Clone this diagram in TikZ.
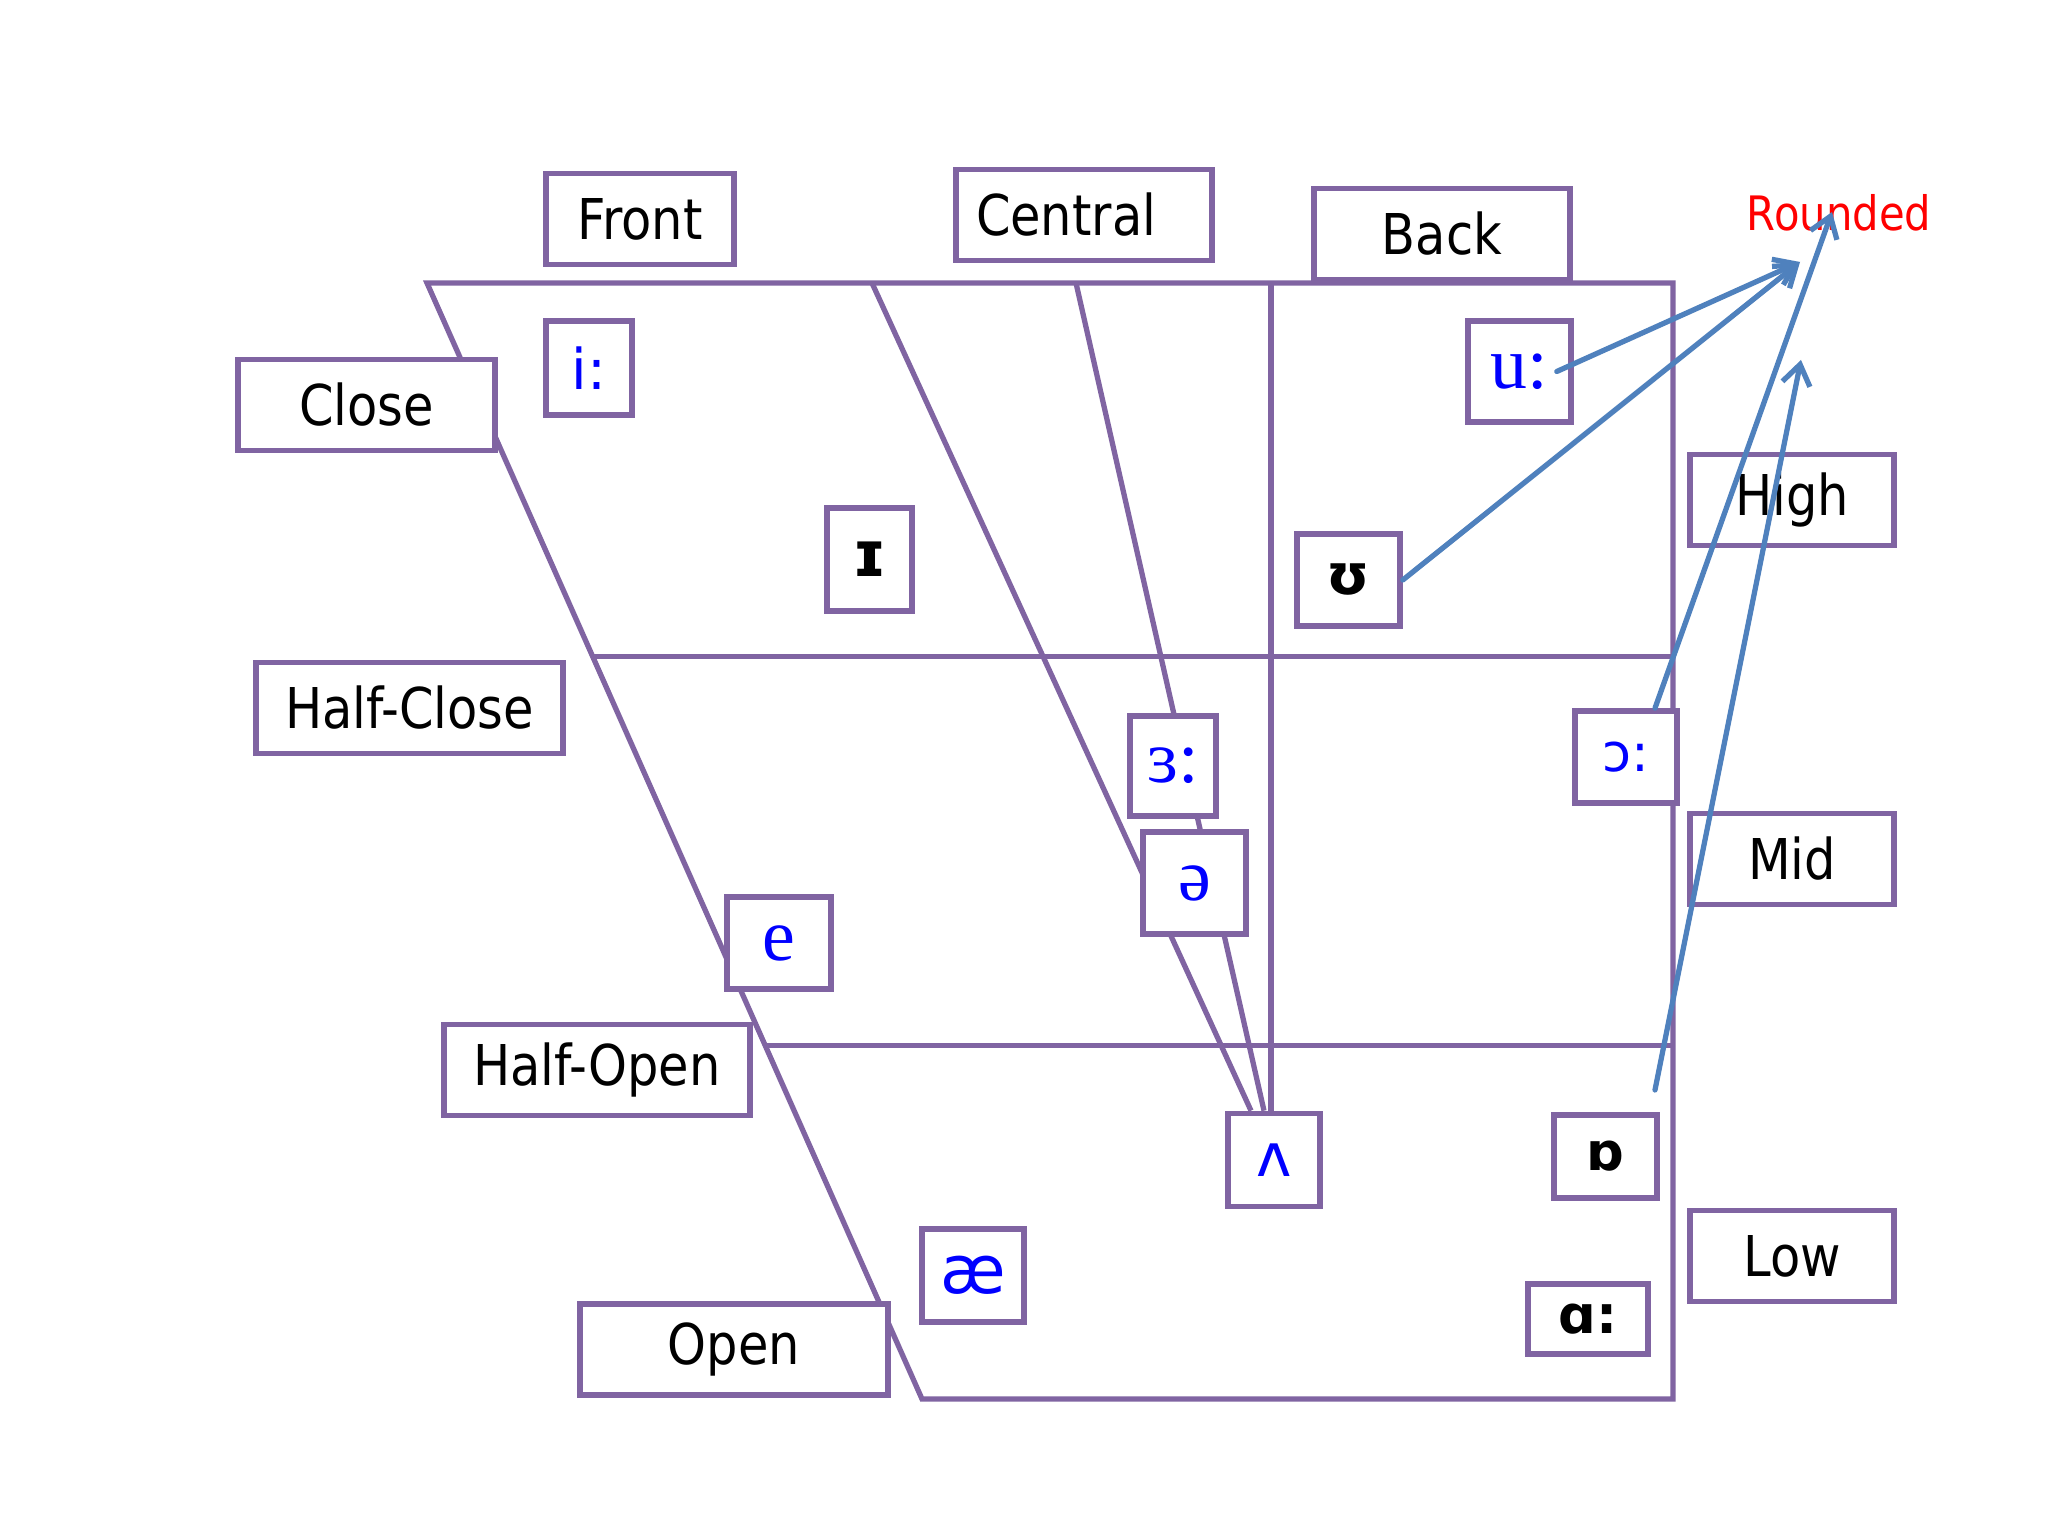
\documentclass[tikz,border=0pt]{standalone}
\usepackage{fontspec}
\usepackage{tikz}
\usepackage{color}
\usetikzlibrary{arrows.meta,calc,backgrounds}

\newfontfamily\lblfont[FakeStretch=0.88]{DejaVu Sans}
\newfontfamily\ipasans{DejaVu Sans}
\newfontfamily\ipaserif{Liberation Serif}
\definecolor{chartpurple}{HTML}{8064A2}
\definecolor{arrowblue}{HTML}{4F81BD}

\tikzset{
  lbl/.style={draw=chartpurple, line width=1.6pt, fill=white, inner sep=0pt,
    font=\lblfont\fontsize{16}{19}\selectfont, minimum height=0.91cm},
  vow/.style={draw=chartpurple, line width=1.6pt, fill=white, inner sep=0pt},
  chart/.style={draw=chartpurple, line width=1.5pt},
  rarrow/.style={draw=arrowblue, line width=1.5pt, line cap=round,
    -{Straight Barb[length=2mm,width=2.8mm]}}
}

\begin{document}
\begin{tikzpicture}

\useasboundingbox (0,0) rectangle (20.48,15.36);

\coordinate (tl) at (4.27,12.53);
\coordinate (tr) at (16.73,12.53);
\coordinate (br) at (16.73,1.37);
\coordinate (bl) at (9.22,1.37);

% labels
\node[lbl, minimum width=1.88cm] (front) at (6.40,13.17) {Front};
\node[lbl, minimum width=2.56cm, text width=2.16cm, align=left] (central) at (10.84,13.21) {Central};
\node[lbl, minimum width=2.56cm] (back) at (14.42,13.02) {Back};
\node[lbl, minimum width=2.57cm] (close) at (3.665,11.31) {Close};
\node[lbl, minimum width=3.07cm] (halfclose) at (4.095,8.28) {Half-Close};
\node[lbl, minimum width=3.06cm] (halfopen) at (5.97,4.66) {Half-Open};
\node[lbl, minimum width=3.08cm] (open) at (7.34,1.865) {Open};
\node[lbl, minimum width=2.04cm] (high) at (17.92,10.36) {High};
\node[lbl, minimum width=2.04cm] (mid) at (17.92,6.77) {Mid};
\node[lbl, minimum width=2.04cm] (low) at (17.92,2.80) {Low};
\node[text=red, font=\lblfont\fontsize{13.5}{16}\selectfont] (rounded) at (18.39,13.23) {Rounded};

% vowels
\node[vow, minimum width=0.86cm, minimum height=0.94cm, text=blue, font=\ipasans\fontsize{16}{19}\selectfont] (ii) at (5.89,11.68) {i:};
\node[vow, minimum width=0.85cm, minimum height=1.03cm, font=\ipasans\bfseries\fontsize{18}{21}\selectfont] (ih) at (8.695,9.765) {ɪ};
\node[vow, minimum width=1.03cm, minimum height=1.01cm, text=blue, font=\ipaserif\fontsize{21}{25}\selectfont] (uu) at (15.195,11.645) {u:};
\node[vow, minimum width=1.03cm, minimum height=0.92cm, font=\ipasans\bfseries\fontsize{16}{19}\selectfont] (uh) at (13.485,9.56) {ʊ};
\node[vow, minimum width=0.86cm, minimum height=1.00cm, text=blue, font=\ipaserif\fontsize{21}{25}\selectfont] (er) at (11.73,7.70) {ɜ:};
\node[vow, minimum width=1.03cm, minimum height=1.02cm, text=blue, font=\ipaserif\fontsize{21}{25}\selectfont] (schwa) at (11.945,6.53) {ə};
\node[vow, minimum width=1.04cm, minimum height=0.92cm, text=blue, font=\ipaserif\fontsize{21}{25}\selectfont] (ee) at (7.79,5.93) {e};
\node[vow, minimum width=1.02cm, minimum height=0.92cm, text=blue, font=\ipasans\fontsize{15}{18}\selectfont] (oo) at (16.26,7.79) {ɔ:};
\node[vow, minimum width=0.92cm, minimum height=0.93cm, text=blue, font=\ipasans\fontsize{17}{20}\selectfont] (lam) at (12.74,3.76) {ʌ};
\node[vow, minimum width=1.03cm, minimum height=0.83cm, font=\ipasans\bfseries\fontsize{15}{18}\selectfont] (oh) at (16.055,3.795) {ɒ};
\node[vow, minimum width=1.02cm, minimum height=0.93cm, text=blue, font=\ipasans\fontsize{19}{22}\selectfont] (ae) at (9.73,2.605) {æ};
\node[vow, minimum width=1.20cm, minimum height=0.70cm, font=\ipasans\bfseries\fontsize{15}{18}\selectfont] (aa) at (15.88,2.17) {ɑ:};

\begin{scope}[on background layer]
\fill[white] (0,0) rectangle (20.48,15.36);
\draw[chart] (tl) -- (tr) -- (br) -- (bl) -- cycle;
\coordinate (hc) at ($(tl)!0.335!(bl)$);
\coordinate (ho) at ($(tl)!0.683!(bl)$);
\draw[chart] (hc) -- (hc -| tr);
\draw[chart] (ho) -- (ho -| tr);
\coordinate (c1) at (8.72,12.53);
\coordinate (c2) at (10.76,12.53);
\coordinate (c3) at (12.71,12.53);
\draw[chart] (c1) -- ([xshift=-0.23cm]lam.north);
\draw[chart] (c2) -- ([xshift=-0.10cm]lam.north);
\draw[chart] (c3) -- ([xshift=-0.03cm]lam.north);
\end{scope}

\coordinate (rtip) at (18.00,12.74);
\coordinate (rtop) at (18.32,13.24);
\coordinate (htip) at (18.01,11.76);
\coordinate (lowstart) at (16.55,4.46);
\draw[rarrow] ([xshift=-0.17cm]uu.east) -- (rtip);
\draw[rarrow] (uh.east) -- (rtip);
\draw[rarrow] ([xshift=0.29cm]oo.north) -- (rtop);
\draw[rarrow] (lowstart) -- (htip);

\end{tikzpicture}
\end{document}
